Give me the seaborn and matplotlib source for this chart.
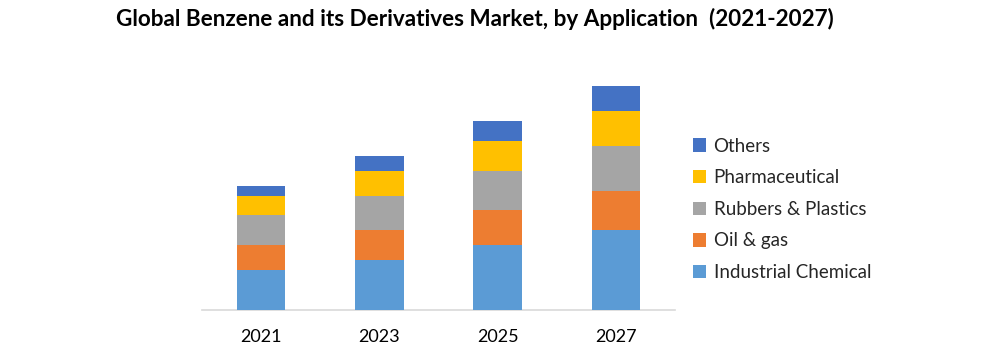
import matplotlib
matplotlib.use("Agg")
import matplotlib.pyplot as plt
import seaborn as sns
import pandas as pd
import numpy as np
from matplotlib.patches import Patch

years = ["2021", "2023", "2025", "2027"]
series = ["Industrial Chemical", "Oil & gas", "Rubbers & Plastics", "Pharmaceutical", "Others"]
industrial = [40, 50, 65, 80]
oil_gas = [25, 30, 35, 39]
rubbers = [30, 34, 39, 45]
pharma = [19, 25, 30, 35]
others = [10, 15, 20, 25]
colors = ["#5B9BD5", "#ED7D31", "#A5A5A5", "#FFC000", "#4472C4"]

sns.set_theme(style="white")
plt.rcParams["font.family"] = ["Lato", "DejaVu Sans"]

values = [industrial, oil_gas, rubbers, pharma, others]
cum = np.cumsum(np.array(values, dtype=float), axis=0)

fig = plt.figure(figsize=(9.93, 3.5), dpi=100)
ax = fig.add_axes([202 / 993, 40 / 350, (675 - 202) / 993, 250 / 350])

# draw cumulative totals from the top layer down so lower layers overlay
for i in range(len(series) - 1, -1, -1):
    df = pd.DataFrame({"year": years, "value": cum[i]})
    sns.barplot(data=df, x="year", y="value", color=colors[i], width=0.41,
                saturation=1, ax=ax, linewidth=0, zorder=2 + (len(series) - i))

ax.set_ylim(0, 250)
ax.set_xlim(-0.5, 3.5)
ax.set_xlabel("")
ax.set_ylabel("")
ax.set_yticks([])
for s in ["left", "right", "top"]:
    ax.spines[s].set_visible(False)
ax.spines["bottom"].set_color("#D9D9D9")
ax.spines["bottom"].set_linewidth(1.2)
ax.tick_params(axis="x", length=0, pad=14, labelsize=13, labelcolor="#000000")

fig.text(0.478, 0.946, "Global Benzene and its Derivatives Market, by Application  (2021-2027)",
         ha="center", va="center", fontsize=16.2, fontweight="bold",
         family=["Lato", "DejaVu Sans"], color="#000000")

handles = [Patch(facecolor=colors[i], edgecolor="none", label=series[i])
           for i in range(len(series) - 1, -1, -1)]
leg = fig.legend(handles=handles, loc="upper left", bbox_to_anchor=(685 / 993, 1 - 130 / 350),
                 frameon=False, fontsize=13.5, handlelength=0.72, handleheight=0.72,
                 handletextpad=0.4, labelspacing=0.78, borderaxespad=0)

fig.savefig("out.png", dpi=100)
